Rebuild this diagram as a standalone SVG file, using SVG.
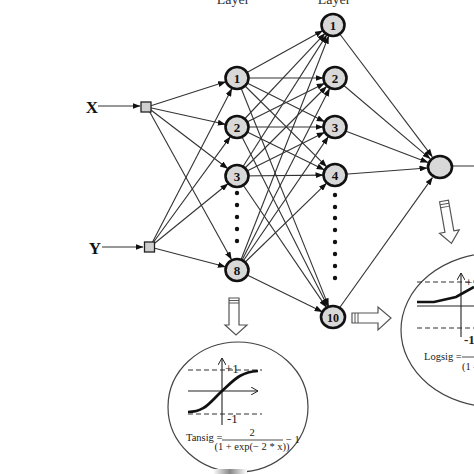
<svg xmlns="http://www.w3.org/2000/svg" width="474" height="474" viewBox="0 0 474 474">
<defs>
<marker id="ah" markerWidth="8" markerHeight="6" refX="7.5" refY="3" orient="auto" markerUnits="userSpaceOnUse">
<path d="M0,0 L8,3 L0,6 Z" fill="#111"/>
</marker>
<marker id="ax" markerWidth="8" markerHeight="8" refX="7" refY="4" orient="auto" markerUnits="userSpaceOnUse">
<path d="M0,0 L7,4 L0,8" fill="none" stroke="#222" stroke-width="1"/>
</marker>
<linearGradient id="g" x1="0" x2="1" y1="0" y2="0">
<stop offset="0" stop-color="#fff"/>
<stop offset="0.5" stop-color="#888"/>
<stop offset="1" stop-color="#fff"/>
</linearGradient>
</defs>
<style>
.c line{stroke:#333;stroke-width:1.1;marker-end:url(#ah)}
.n ellipse{fill:#d8d8d8;stroke:#111;stroke-width:2.6}
.n text{font-family:"Liberation Serif",serif;font-weight:bold;font-size:13px;text-anchor:middle;fill:#111}
.sq{fill:#d0d0d0;stroke:#222;stroke-width:1.3}
.lbl{font-family:"Liberation Serif",serif;font-weight:bold;font-size:17px;fill:#111;text-anchor:middle}
.lay{font-family:"Liberation Serif",serif;font-size:14px;fill:#333;text-anchor:middle}
.dot{fill:#111}
.ha{fill:#fff;stroke:#555;stroke-width:1.2}
.ell{fill:#fff;stroke:#444;stroke-width:1.2}
.dash{stroke:#333;stroke-width:1.2;stroke-dasharray:5,3;fill:none}
.axis{stroke:#222;stroke-width:1.1;fill:none}
.curve{stroke:#111;stroke-width:2.7;fill:none}
.f{font-family:"Liberation Serif",serif;font-size:10.5px;fill:#222}
.pl{font-family:"Liberation Serif",serif;font-size:13px;fill:#222}
</style>
<rect width="474" height="474" fill="#fff"/>
<text class="lay" x="233" y="4">Layer</text>
<text class="lay" x="334" y="4">Layer</text>
<g id="connectors" class="c">
<line x1="98" y1="106" x2="140" y2="106"/>
<line x1="102" y1="247" x2="143" y2="247"/>
<line x1="147" y1="107" x2="225.6" y2="81.8"/>
<line x1="147" y1="107" x2="225.3" y2="124.3"/>
<line x1="147" y1="107" x2="227.6" y2="168.5"/>
<line x1="147" y1="107" x2="231.4" y2="259.4"/>
<line x1="150" y1="247" x2="231.8" y2="88.8"/>
<line x1="150" y1="247" x2="230.2" y2="136.9"/>
<line x1="150" y1="247" x2="227.9" y2="183.8"/>
<line x1="150" y1="247" x2="225.4" y2="266.8"/>
<line x1="237" y1="78" x2="322.5" y2="30.8"/>
<line x1="237" y1="78" x2="323" y2="78"/>
<line x1="237" y1="78" x2="324.3" y2="121.6"/>
<line x1="237" y1="78" x2="326.5" y2="166.6"/>
<line x1="237" y1="78" x2="328.5" y2="305.9"/>
<line x1="237" y1="127" x2="324.8" y2="33.7"/>
<line x1="237" y1="127" x2="324.3" y2="83.4"/>
<line x1="237" y1="127" x2="323" y2="127"/>
<line x1="237" y1="127" x2="324.2" y2="169.7"/>
<line x1="237" y1="127" x2="327.6" y2="306.3"/>
<line x1="237" y1="176" x2="326.6" y2="35.1"/>
<line x1="237" y1="176" x2="326.5" y2="86.5"/>
<line x1="237" y1="176" x2="324.3" y2="132.4"/>
<line x1="237" y1="176" x2="323" y2="175.1"/>
<line x1="237" y1="176" x2="326.2" y2="307.1"/>
<line x1="237" y1="270" x2="328.6" y2="36.2"/>
<line x1="237" y1="270" x2="329.5" y2="88.7"/>
<line x1="237" y1="270" x2="328.2" y2="136.9"/>
<line x1="237" y1="270" x2="326.4" y2="183.4"/>
<line x1="237" y1="270" x2="322.2" y2="311.7"/>
<line x1="333" y1="25" x2="432.2" y2="156.6"/>
<line x1="335" y1="78" x2="430.1" y2="158.6"/>
<line x1="335" y1="127" x2="427.9" y2="162.4"/>
<line x1="335" y1="175" x2="427" y2="168"/>
<line x1="333" y1="317" x2="432.4" y2="177.6"/>
<line x1="440" y1="166" x2="474" y2="166" style="marker-end:none"/>
</g>
<g id="inX"><rect class="sq" x="141" y="102" width="10" height="10"/><text class="lbl" x="92" y="113">X</text></g>
<g id="inY"><rect class="sq" x="144.5" y="242" width="10" height="10"/><text class="lbl" x="95" y="254">Y</text></g>
<g id="h1" class="n"><ellipse cx="237" cy="78" rx="11.5" ry="11"/><text x="237" y="82.5">1</text></g>
<g id="h2" class="n"><ellipse cx="237" cy="127" rx="11.5" ry="11"/><text x="237" y="131.5">2</text></g>
<g id="h3" class="n"><ellipse cx="237" cy="176" rx="11.5" ry="11"/><text x="237" y="180.5">3</text></g>
<g id="h8" class="n"><ellipse cx="237" cy="270" rx="11.5" ry="11"/><text x="237" y="274.5">8</text></g>
<g id="hdots">
<circle class="dot" cx="237" cy="193" r="2.2"/><circle class="dot" cx="237" cy="205" r="2.2"/><circle class="dot" cx="237" cy="217" r="2.2"/><circle class="dot" cx="237" cy="229" r="2.2"/><circle class="dot" cx="237" cy="241" r="2.2"/>
</g>
<g id="m1" class="n"><ellipse cx="333" cy="25" rx="11.5" ry="11"/><text x="333" y="29.5">1</text></g>
<g id="m2" class="n"><ellipse cx="335" cy="78" rx="11.5" ry="11"/><text x="335" y="82.5">2</text></g>
<g id="m3" class="n"><ellipse cx="335" cy="127" rx="11.5" ry="11"/><text x="335" y="131.5">3</text></g>
<g id="m4" class="n"><ellipse cx="335" cy="175" rx="11.5" ry="11"/><text x="335" y="179.5">4</text></g>
<g id="m10" class="n"><ellipse cx="333" cy="317" rx="12" ry="11"/><text x="333" y="321.5" style="font-size:12px">10</text></g>
<g id="mdots">
<circle class="dot" cx="335" cy="195" r="2.2"/><circle class="dot" cx="335" cy="207" r="2.2"/><circle class="dot" cx="335" cy="218" r="2.2"/><circle class="dot" cx="335" cy="230" r="2.2"/><circle class="dot" cx="335" cy="242" r="2.2"/><circle class="dot" cx="335" cy="254" r="2.2"/><circle class="dot" cx="335" cy="266" r="2.2"/><circle class="dot" cx="335" cy="278" r="2.2"/>
</g>
<g id="out" class="n"><ellipse cx="440" cy="167" rx="12" ry="11"/></g>
<g id="arrowDown1">
<path class="ha" d="M229,298 H239 V325 H247 L236,335 L225,325 H229 Z"/>
<line x1="229" y1="300.5" x2="239" y2="300.5" stroke="#555" stroke-width="1"/>
<line x1="229" y1="303" x2="239" y2="303" stroke="#555" stroke-width="1"/>
</g>
<g id="arrowRight">
<path class="ha" d="M352,313 V323 H378 V330 L391,318 L378,307 V313 Z"/>
<line x1="355" y1="313" x2="355" y2="323" stroke="#555" stroke-width="1"/>
<line x1="358" y1="313" x2="358" y2="323" stroke="#555" stroke-width="1"/>
</g>
<g id="arrowDown2" transform="translate(444,201) rotate(-10)">
<path class="ha" d="M-4.5,0 H4.5 V31 H10 L0,43 L-10,31 H-4.5 Z"/>
<line x1="-4.5" y1="3" x2="4.5" y2="3" stroke="#555" stroke-width="1"/>
<line x1="-4.5" y1="6" x2="4.5" y2="6" stroke="#555" stroke-width="1"/>
</g>
<g id="tansig">
<ellipse class="ell" cx="238" cy="407" rx="70" ry="65"/>
<line class="dash" x1="188" y1="370" x2="262" y2="370"/>
<line class="dash" x1="188" y1="414" x2="262" y2="414"/>
<line class="axis" x1="188" y1="391" x2="258" y2="391" marker-end="url(#ax)"/>
<line class="axis" x1="222" y1="425" x2="222" y2="358" marker-end="url(#ax)"/>
<path class="curve" d="M188,412 C205,412 210,402 222,391 C234,380 240,372 258,371"/>
<text class="pl" x="225" y="373">+1</text>
<text class="pl" x="227" y="423">-1</text>
<text class="f" x="186" y="441">Tansig =</text>
<text class="f" x="252" y="436" text-anchor="middle">2</text>
<line x1="222" y1="440" x2="283" y2="440" stroke="#222" stroke-width="0.8"/>
<text class="f" x="252" y="450" text-anchor="middle">(1 + exp(− 2 * x))</text>
<text class="f" x="286" y="443">− 1</text>
<rect x="213" y="469" width="34" height="5" fill="url(#g)"/>
</g>
<g id="logsig">
<ellipse class="ell" cx="495" cy="330" rx="94" ry="77"/>
<line class="dash" x1="417" y1="282" x2="474" y2="282"/>
<line class="dash" x1="417" y1="328" x2="474" y2="328"/>
<line class="axis" x1="417" y1="306" x2="474" y2="306"/>
<line class="axis" x1="461" y1="337" x2="461" y2="273" marker-end="url(#ax)"/>
<path class="curve" d="M417,302 L434,302 L456,297 L474,287"/>
<text class="pl" x="465" y="287">+1</text>
<text class="pl" x="464" y="344" style="font-weight:bold">-1</text>
<text class="f" x="424" y="360">Logsig =</text>
<line x1="462" y1="357" x2="474" y2="357" stroke="#222" stroke-width="0.8"/>
<text class="f" x="462" y="370">(1 -</text>
</g>
</svg>
